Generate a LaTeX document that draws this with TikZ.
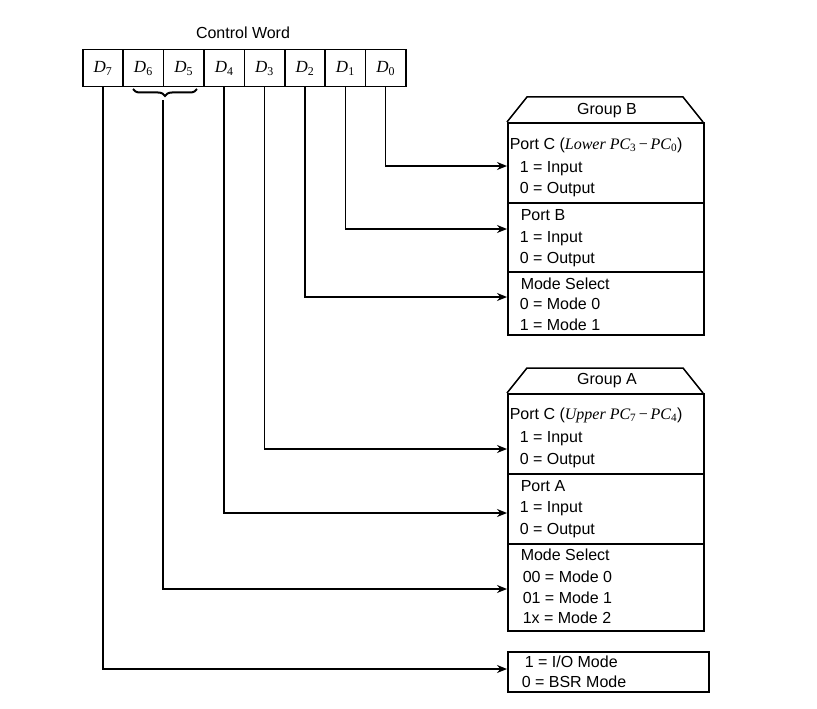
\documentclass[tikz,border=0pt]{standalone}
\usepackage{fontspec}
\setmainfont{Liberation Sans}
\newfontfamily\tms{Liberation Serif}
\usetikzlibrary{arrows.meta,decorations.pathreplacing}
\newcommand{\Dv}[1]{{\tms\textit{D}\textsubscript{#1}}}
\newcommand{\PCr}[3]{{\tms\itshape #1 PC\textsubscript{\upshape #2}\,\upshape −\,\itshape PC\textsubscript{\upshape #3}}}
\begin{document}
\begin{tikzpicture}[x=1pt,y=-1pt,line width=1.5pt,
  txt/.style={anchor=west,inner sep=0pt,font=\fontsize{16}{18}\selectfont},
  cell/.style={draw,minimum width=40.4pt,minimum height=37pt,inner sep=0pt,anchor=north west,font=\fontsize{17}{18}\selectfont},
  arr/.style={-{Stealth[length=10pt,width=8pt]},line width=1.4pt}]
\useasboundingbox (0,0) rectangle (817,709);
\node[font=\fontsize{16}{18}\selectfont] (cw) at (243,33) {Control Word};
\foreach \i/\n in {0/7,1/6,2/5,3/4,4/3,5/2,6/1,7/0}{
  \node[cell] (d\n) at ({82+40.4*\i},49) {\Dv{\n}};
}
\draw[line width=2pt,decorate,decoration={brace,mirror,amplitude=7pt}] (133,89) -- (197,89);
\coordinate (br) at (163,100);
% Group B
\draw (507,122) -- (527,97) -- (683,97) -- (703,122);
\node[draw,minimum width=196pt,minimum height=80pt,anchor=north west,inner sep=0pt] (bc) at (507,122) {};
\node[draw,minimum width=196pt,minimum height=69pt,anchor=north west,inner sep=0pt] (bb) at (507,202) {};
\node[draw,minimum width=196pt,minimum height=63pt,anchor=north west,inner sep=0pt] (bm) at (507,271) {};
\node[font=\fontsize{16}{18}\selectfont] (gb) at (607,111) {Group B};
\node[txt] (t1) at (509,145) {Port C (\PCr{Lower}{3}{0})};
\node[txt] (t2) at (519,169) {1 = Input};
\node[txt] (t3) at (519,190) {0 = Output};
\node[txt] (t4) at (520,215) {Port B};
\node[txt] (t5) at (519,239) {1 = Input};
\node[txt] (t6) at (519,260) {0 = Output};
\node[txt] (t7) at (520,284) {Mode Select};
\node[txt] (t8) at (519,304) {0 = Mode 0};
\node[txt] (t9) at (519,325) {1 = Mode 1};
% Group A
\draw (507,393) -- (527,368) -- (683,368) -- (703,393);
\node[draw,minimum width=196pt,minimum height=80pt,anchor=north west,inner sep=0pt] (ac) at (507,393) {};
\node[draw,minimum width=196pt,minimum height=70pt,anchor=north west,inner sep=0pt] (aa) at (507,473) {};
\node[draw,minimum width=196pt,minimum height=87pt,anchor=north west,inner sep=0pt] (am) at (507,543) {};
\node[font=\fontsize{16}{18}\selectfont] (ga) at (607,381) {Group A};
\node[txt] (s1) at (509,415) {Port C (\PCr{Upper}{7}{4})};
\node[txt] (s2) at (519,439) {1 = Input};
\node[txt] (s3) at (519,461) {0 = Output};
\node[txt] (s4) at (520,486) {Port A};
\node[txt] (s5) at (519,509) {1 = Input};
\node[txt] (s6) at (519,531) {0 = Output};
\node[txt] (s7) at (520,555) {Mode Select};
\node[txt] (s8) at (522,577) {00 = Mode 0};
\node[txt] (s9) at (522,598) {01 = Mode 1};
\node[txt] (s10) at (522,618) {1x = Mode 2};
% bottom
\node[draw,minimum width=201pt,minimum height=40pt,anchor=north west,inner sep=0pt] (io) at (507,651) {};
\node[txt] (u1) at (524,662) {1 = I/O Mode};
\node[txt] (u2) at (521,682) {0 = BSR Mode};
% connectors
\draw[arr] (d0.south) |- (507,166);
\draw[arr] (d1.south) |- (507,229);
\draw[arr] (d2.south) |- (507,297);
\draw[arr] (d3.south) |- (507,449);
\draw[arr] (d4.south) |- (507,513);
\draw[arr] (br) |- (507,589);
\draw[arr] (d7.south) |- (507,669);
\end{tikzpicture}
\end{document}
